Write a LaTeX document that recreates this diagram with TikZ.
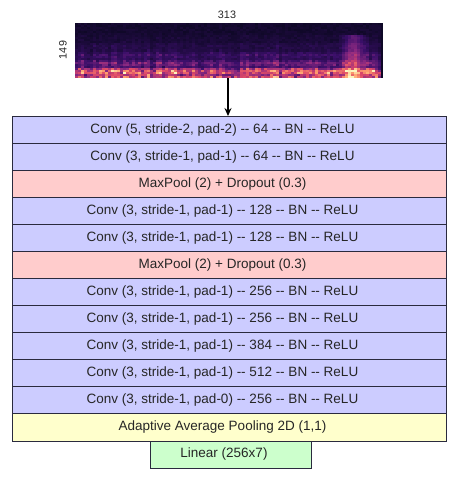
\documentclass[tikz,border=0pt]{standalone}
\usepackage{fontspec}
\newfontfamily\hv{Liberation Sans}
\usetikzlibrary{arrows.meta}
\definecolor{bluerow}{HTML}{CCCCFF}
\definecolor{redrow}{HTML}{FFCCCC}
\definecolor{yellowrow}{HTML}{FFFFCC}
\definecolor{greenrow}{HTML}{CCFFCC}
\definecolor{edge}{HTML}{2A2A3E}
\definecolor{mag0}{HTML}{0E0826}
\definecolor{mag1}{HTML}{3B0F6A}
\definecolor{mag2}{HTML}{8C2981}
\definecolor{mag3}{HTML}{DE4968}
\definecolor{mag4}{HTML}{FE9F6D}
\definecolor{mag5}{HTML}{FCF6BF}
\begin{document}
\begin{tikzpicture}[x=1pt,y=-1pt,
  layer/.style={draw=edge,line width=0.9pt,minimum width=434pt,minimum height=27.04pt,inner sep=0pt,font=\hv\fontsize{13.5}{15}\selectfont,text=black!85,execute at end node={\hspace*{13pt}}},
  convrow/.style={layer,fill=bluerow},
  poolrow/.style={layer,fill=redrow},
  avgrow/.style={layer,fill=yellowrow},
  linrow/.style={layer,fill=greenrow,minimum width=161pt},
  dimlabel/.style={font=\hv\fontsize{10.8}{12}\selectfont,inner sep=0pt,text=black!85}]
\useasboundingbox (0,0) rectangle (474,484);
% spectrogram
\node[minimum width=308pt,minimum height=55pt,inner sep=0pt,fill=mag0] (spec) at (229,50.5) {};
\pgfmathsetseed{42}
\foreach \i in {0,...,101} {
  \pgfmathsetmacro\cx{75+3*\i}
  \pgfmathsetmacro\cw{0.5+0.5*rnd}
  \pgfmathsetmacro\blob{max(0,1-abs(\cx-353)/16)}
  \foreach \j in {0,...,26} {
    \pgfmathsetmacro\t{(\j+0.5)/27}
    \pgfmathsetmacro\rf{0.55+0.45*(sin(\j*137.5))^2}
    \pgfmathsetmacro\v{min(0.999,\cw*\rf*(\t^2.4)*(0.55+0.45*rnd)*1.1+0.05*rnd+0.42*\blob*(\t>0.22)*(0.5+0.5*\t)+0.28*(\t>0.8)*rnd)}
    \pgfmathtruncatemacro\ci{min(4,int(\v*5))}
    \pgfmathtruncatemacro\cn{\ci+1}
    \pgfmathtruncatemacro\f{100*(\v*5-\ci)}
    \fill[mag\cn!\f!mag\ci] (\cx,23+55/27*\j) rectangle ++(3.3,2.3);
  }
}
\node[dimlabel,anchor=south] (wlab) at (227,19) {313};
\node[dimlabel,rotate=90] (hlab) at (63,50) {149};
% layers
\node[convrow] (r1) at (229,130.02) {Conv (5, stride-2, pad-2) -- 64 -- BN -- ReLU};
\node[convrow] (r2) at (229,157.06) {Conv (3, stride-1, pad-1) -- 64 -- BN -- ReLU};
\node[poolrow] (r3) at (229,184.10) {MaxPool (2) + Dropout (0.3)};
\node[convrow] (r4) at (229,211.14) {Conv (3, stride-1, pad-1) -- 128 -- BN -- ReLU};
\node[convrow] (r5) at (229,238.18) {Conv (3, stride-1, pad-1) -- 128 -- BN -- ReLU};
\node[poolrow] (r6) at (229,265.22) {MaxPool (2) + Dropout (0.3)};
\node[convrow] (r7) at (229,292.26) {Conv (3, stride-1, pad-1) -- 256 -- BN -- ReLU};
\node[convrow] (r8) at (229,319.30) {Conv (3, stride-1, pad-1) -- 256 -- BN -- ReLU};
\node[convrow] (r9) at (229,346.34) {Conv (3, stride-1, pad-1) -- 384 -- BN -- ReLU};
\node[convrow] (r10) at (229,373.38) {Conv (3, stride-1, pad-1) -- 512 -- BN -- ReLU};
\node[convrow] (r11) at (229,400.42) {Conv (3, stride-1, pad-0) -- 256 -- BN -- ReLU};
\node[avgrow] (r12) at (229,427.46) {Adaptive Average Pooling 2D (1,1)};
\node[linrow] (r13) at (230.5,454.5) {Linear (256x7)};
% arrow
\draw[line width=1.4pt,-{Stealth[length=8pt,width=7pt]}] ([xshift=-1pt]spec.south) -- ([xshift=-1pt]r1.north);
\end{tikzpicture}
\end{document}
